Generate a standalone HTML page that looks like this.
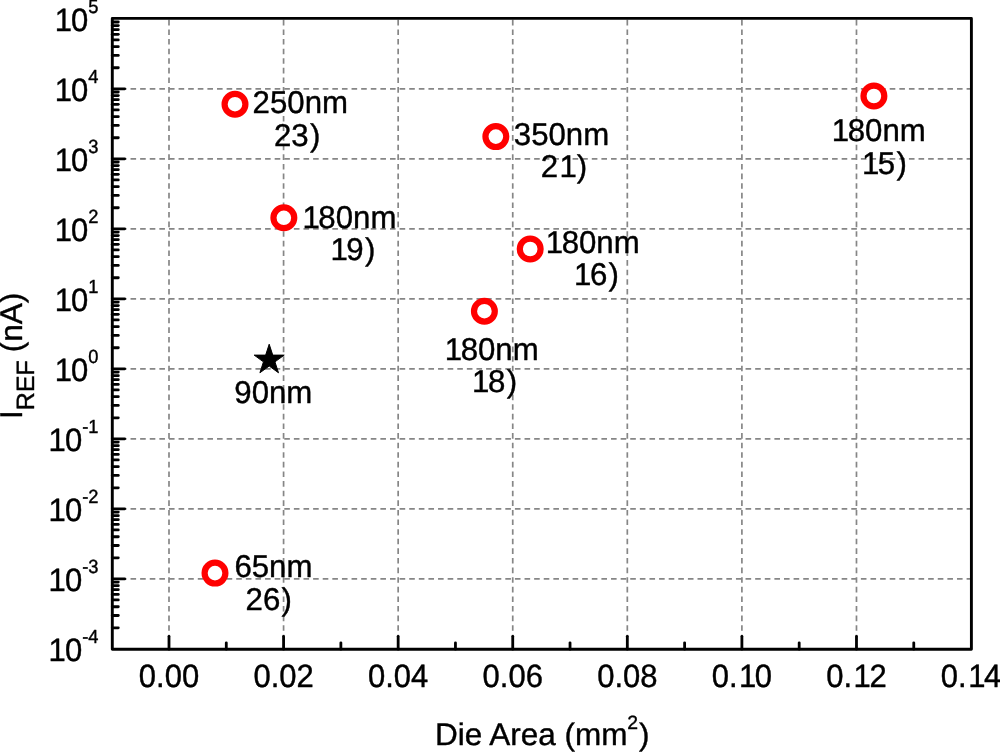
<!DOCTYPE html>
<html lang="en"><head><meta charset="utf-8"><title>I_REF vs Die Area</title>
<style>html,body{margin:0;padding:0;background:#fff;overflow:hidden}svg{display:block}text{font-family:"Liberation Sans",Arial,Helvetica,sans-serif;fill:#000;stroke:#000;stroke-width:0.4px;stroke-linejoin:round;text-rendering:geometricPrecision}</style></head><body>
<svg width="1000" height="752" viewBox="0 0 1000 752">
<rect width="1000" height="752" fill="#fff"/>
<g stroke="#868686" stroke-width="1.7" stroke-dasharray="5.6 4.01" fill="none">
<line x1="169.00" y1="19.80" x2="169.00" y2="649.20"/>
<line x1="283.58" y1="19.80" x2="283.58" y2="649.20"/>
<line x1="398.16" y1="19.80" x2="398.16" y2="649.20"/>
<line x1="512.74" y1="19.80" x2="512.74" y2="649.20"/>
<line x1="627.32" y1="19.80" x2="627.32" y2="649.20"/>
<line x1="741.90" y1="19.80" x2="741.90" y2="649.20"/>
<line x1="856.48" y1="19.80" x2="856.48" y2="649.20"/>
<line x1="111.30" y1="88.81" x2="971.40" y2="88.81"/>
<line x1="111.30" y1="158.82" x2="971.40" y2="158.82"/>
<line x1="111.30" y1="228.83" x2="971.40" y2="228.83"/>
<line x1="111.30" y1="298.84" x2="971.40" y2="298.84"/>
<line x1="111.30" y1="368.85" x2="971.40" y2="368.85"/>
<line x1="111.30" y1="438.86" x2="971.40" y2="438.86"/>
<line x1="111.30" y1="508.87" x2="971.40" y2="508.87"/>
<line x1="111.30" y1="578.88" x2="971.40" y2="578.88"/>
</g>
<g stroke="#000" stroke-width="2.8" stroke-linecap="round" fill="none">
<line x1="112.30" y1="67.73" x2="118.30" y2="67.73"/>
<line x1="112.30" y1="55.41" x2="118.30" y2="55.41"/>
<line x1="112.30" y1="46.66" x2="118.30" y2="46.66"/>
<line x1="112.30" y1="39.88" x2="118.30" y2="39.88"/>
<line x1="112.30" y1="34.33" x2="118.30" y2="34.33"/>
<line x1="112.30" y1="29.64" x2="118.30" y2="29.64"/>
<line x1="112.30" y1="25.58" x2="118.30" y2="25.58"/>
<line x1="112.30" y1="22.00" x2="118.30" y2="22.00"/>
<line x1="112.30" y1="88.81" x2="124.70" y2="88.81"/>
<line x1="112.30" y1="137.74" x2="118.30" y2="137.74"/>
<line x1="112.30" y1="125.42" x2="118.30" y2="125.42"/>
<line x1="112.30" y1="116.67" x2="118.30" y2="116.67"/>
<line x1="112.30" y1="109.89" x2="118.30" y2="109.89"/>
<line x1="112.30" y1="104.34" x2="118.30" y2="104.34"/>
<line x1="112.30" y1="99.65" x2="118.30" y2="99.65"/>
<line x1="112.30" y1="95.59" x2="118.30" y2="95.59"/>
<line x1="112.30" y1="92.01" x2="118.30" y2="92.01"/>
<line x1="112.30" y1="158.82" x2="124.70" y2="158.82"/>
<line x1="112.30" y1="207.75" x2="118.30" y2="207.75"/>
<line x1="112.30" y1="195.43" x2="118.30" y2="195.43"/>
<line x1="112.30" y1="186.68" x2="118.30" y2="186.68"/>
<line x1="112.30" y1="179.90" x2="118.30" y2="179.90"/>
<line x1="112.30" y1="174.35" x2="118.30" y2="174.35"/>
<line x1="112.30" y1="169.66" x2="118.30" y2="169.66"/>
<line x1="112.30" y1="165.60" x2="118.30" y2="165.60"/>
<line x1="112.30" y1="162.02" x2="118.30" y2="162.02"/>
<line x1="112.30" y1="228.83" x2="124.70" y2="228.83"/>
<line x1="112.30" y1="277.76" x2="118.30" y2="277.76"/>
<line x1="112.30" y1="265.44" x2="118.30" y2="265.44"/>
<line x1="112.30" y1="256.69" x2="118.30" y2="256.69"/>
<line x1="112.30" y1="249.91" x2="118.30" y2="249.91"/>
<line x1="112.30" y1="244.36" x2="118.30" y2="244.36"/>
<line x1="112.30" y1="239.67" x2="118.30" y2="239.67"/>
<line x1="112.30" y1="235.61" x2="118.30" y2="235.61"/>
<line x1="112.30" y1="232.03" x2="118.30" y2="232.03"/>
<line x1="112.30" y1="298.84" x2="124.70" y2="298.84"/>
<line x1="112.30" y1="347.77" x2="118.30" y2="347.77"/>
<line x1="112.30" y1="335.45" x2="118.30" y2="335.45"/>
<line x1="112.30" y1="326.70" x2="118.30" y2="326.70"/>
<line x1="112.30" y1="319.92" x2="118.30" y2="319.92"/>
<line x1="112.30" y1="314.37" x2="118.30" y2="314.37"/>
<line x1="112.30" y1="309.68" x2="118.30" y2="309.68"/>
<line x1="112.30" y1="305.62" x2="118.30" y2="305.62"/>
<line x1="112.30" y1="302.04" x2="118.30" y2="302.04"/>
<line x1="112.30" y1="368.85" x2="124.70" y2="368.85"/>
<line x1="112.30" y1="417.78" x2="118.30" y2="417.78"/>
<line x1="112.30" y1="405.46" x2="118.30" y2="405.46"/>
<line x1="112.30" y1="396.71" x2="118.30" y2="396.71"/>
<line x1="112.30" y1="389.93" x2="118.30" y2="389.93"/>
<line x1="112.30" y1="384.38" x2="118.30" y2="384.38"/>
<line x1="112.30" y1="379.69" x2="118.30" y2="379.69"/>
<line x1="112.30" y1="375.63" x2="118.30" y2="375.63"/>
<line x1="112.30" y1="372.05" x2="118.30" y2="372.05"/>
<line x1="112.30" y1="438.86" x2="124.70" y2="438.86"/>
<line x1="112.30" y1="487.79" x2="118.30" y2="487.79"/>
<line x1="112.30" y1="475.47" x2="118.30" y2="475.47"/>
<line x1="112.30" y1="466.72" x2="118.30" y2="466.72"/>
<line x1="112.30" y1="459.94" x2="118.30" y2="459.94"/>
<line x1="112.30" y1="454.39" x2="118.30" y2="454.39"/>
<line x1="112.30" y1="449.70" x2="118.30" y2="449.70"/>
<line x1="112.30" y1="445.64" x2="118.30" y2="445.64"/>
<line x1="112.30" y1="442.06" x2="118.30" y2="442.06"/>
<line x1="112.30" y1="508.87" x2="124.70" y2="508.87"/>
<line x1="112.30" y1="557.80" x2="118.30" y2="557.80"/>
<line x1="112.30" y1="545.48" x2="118.30" y2="545.48"/>
<line x1="112.30" y1="536.73" x2="118.30" y2="536.73"/>
<line x1="112.30" y1="529.95" x2="118.30" y2="529.95"/>
<line x1="112.30" y1="524.40" x2="118.30" y2="524.40"/>
<line x1="112.30" y1="519.71" x2="118.30" y2="519.71"/>
<line x1="112.30" y1="515.65" x2="118.30" y2="515.65"/>
<line x1="112.30" y1="512.07" x2="118.30" y2="512.07"/>
<line x1="112.30" y1="578.88" x2="124.70" y2="578.88"/>
<line x1="112.30" y1="627.81" x2="118.30" y2="627.81"/>
<line x1="112.30" y1="615.49" x2="118.30" y2="615.49"/>
<line x1="112.30" y1="606.74" x2="118.30" y2="606.74"/>
<line x1="112.30" y1="599.96" x2="118.30" y2="599.96"/>
<line x1="112.30" y1="594.41" x2="118.30" y2="594.41"/>
<line x1="112.30" y1="589.72" x2="118.30" y2="589.72"/>
<line x1="112.30" y1="585.66" x2="118.30" y2="585.66"/>
<line x1="112.30" y1="582.08" x2="118.30" y2="582.08"/>
<line x1="169.00" y1="649.20" x2="169.00" y2="636.30"/>
<line x1="226.29" y1="649.20" x2="226.29" y2="642.80"/>
<line x1="283.58" y1="649.20" x2="283.58" y2="636.30"/>
<line x1="340.87" y1="649.20" x2="340.87" y2="642.80"/>
<line x1="398.16" y1="649.20" x2="398.16" y2="636.30"/>
<line x1="455.45" y1="649.20" x2="455.45" y2="642.80"/>
<line x1="512.74" y1="649.20" x2="512.74" y2="636.30"/>
<line x1="570.03" y1="649.20" x2="570.03" y2="642.80"/>
<line x1="627.32" y1="649.20" x2="627.32" y2="636.30"/>
<line x1="684.61" y1="649.20" x2="684.61" y2="642.80"/>
<line x1="741.90" y1="649.20" x2="741.90" y2="636.30"/>
<line x1="799.19" y1="649.20" x2="799.19" y2="642.80"/>
<line x1="856.48" y1="649.20" x2="856.48" y2="636.30"/>
<line x1="913.77" y1="649.20" x2="913.77" y2="642.80"/>
</g>
<rect x="112.30" y="18.40" width="859.10" height="630.80" fill="none" stroke="#000" stroke-width="2.9" stroke-linejoin="round"/>
<g font-size="31.5px">
<text transform="translate(97.70 30.70) scale(1 1.04)" text-anchor="end" dx="0.8 -0.8" font-size="31.0px">10<tspan font-size="18.3px" dy="-16.8">5</tspan></text>
<text transform="translate(97.70 100.71) scale(1 1.04)" text-anchor="end" dx="0.8 -0.8" font-size="31.0px">10<tspan font-size="18.3px" dy="-16.8">4</tspan></text>
<text transform="translate(97.70 170.72) scale(1 1.04)" text-anchor="end" dx="0.8 -0.8" font-size="31.0px">10<tspan font-size="18.3px" dy="-16.8">3</tspan></text>
<text transform="translate(97.70 240.73) scale(1 1.04)" text-anchor="end" dx="0.8 -0.8" font-size="31.0px">10<tspan font-size="18.3px" dy="-16.8">2</tspan></text>
<text transform="translate(97.70 310.74) scale(1 1.04)" text-anchor="end" dx="0.8 -0.8" font-size="31.0px">10<tspan font-size="18.3px" dy="-16.8">1</tspan></text>
<text transform="translate(97.70 380.75) scale(1 1.04)" text-anchor="end" dx="0.8 -0.8" font-size="31.0px">10<tspan font-size="18.3px" dy="-16.8">0</tspan></text>
<text transform="translate(97.70 450.76) scale(1 1.04)" text-anchor="end" dx="0.8 -0.8" font-size="31.0px">10<tspan font-size="18.3px" dy="-16.8">-1</tspan></text>
<text transform="translate(97.70 520.77) scale(1 1.04)" text-anchor="end" dx="0.8 -0.8" font-size="31.0px">10<tspan font-size="18.3px" dy="-16.8">-2</tspan></text>
<text transform="translate(97.70 590.78) scale(1 1.04)" text-anchor="end" dx="0.8 -0.8" font-size="31.0px">10<tspan font-size="18.3px" dy="-16.8">-3</tspan></text>
<text transform="translate(97.70 660.79) scale(1 1.04)" text-anchor="end" dx="0.8 -0.8" font-size="31.0px">10<tspan font-size="18.3px" dy="-16.8">-4</tspan></text>
<text transform="translate(169.00 687.30) scale(1 1.04)" text-anchor="middle" font-size="31.0px">0.00</text>
<text transform="translate(283.58 687.30) scale(1 1.04)" text-anchor="middle" font-size="31.0px">0.02</text>
<text transform="translate(398.16 687.30) scale(1 1.04)" text-anchor="middle" font-size="31.0px">0.04</text>
<text transform="translate(512.74 687.30) scale(1 1.04)" text-anchor="middle" font-size="31.0px">0.06</text>
<text transform="translate(627.32 687.30) scale(1 1.04)" text-anchor="middle" font-size="31.0px">0.08</text>
<text transform="translate(741.90 687.30) scale(1 1.04)" text-anchor="middle" dx="0 0 1.4 -1.4" font-size="31.0px">0.10</text>
<text transform="translate(856.48 687.30) scale(1 1.04)" text-anchor="middle" dx="0 0 1.4 -1.4" font-size="31.0px">0.12</text>
<text transform="translate(971.06 687.30) scale(1 1.04)" text-anchor="middle" dx="0 0 1.4 -1.4" font-size="31.0px">0.14</text>
<text transform="translate(435.00 745.30) scale(1 0.99)" font-size="31.5px">Die Area (mm<tspan font-size="19.4px" dy="-16.7" dx="-0.3">2</tspan><tspan dy="16.7" dx="0.9">)</tspan></text>
<text transform="translate(22.10 418.90) rotate(-90) scale(1 1.0)" font-size="31.5px">I<tspan font-size="25.0px" dy="12.3">REF</tspan><tspan dy="-12.3" dx="-0.9"> (nA)</tspan></text>
<text transform="translate(252.60 113.40) scale(1 1.01)" font-size="31.2px">250nm</text>
<text transform="translate(273.90 145.70) scale(1 1.01)" dx="0 0 1.3" font-size="31.2px">23)</text>
<text transform="translate(301.00 227.90) scale(1 1.01)" dx="1.4 -1.4" font-size="31.2px">180nm</text>
<text transform="translate(329.00 259.70) scale(1 1.01)" dx="1.4 -1.4 1.3" font-size="31.2px">19)</text>
<text transform="translate(513.80 144.50) scale(1 1.01)" font-size="31.2px">350nm</text>
<text transform="translate(540.80 176.50) scale(1 1.01)" dx="0 1.4 -0.1" font-size="31.2px">21)</text>
<text transform="translate(544.30 253.10) scale(1 1.01)" dx="1.4 -1.4" font-size="31.2px">180nm</text>
<text transform="translate(572.60 284.90) scale(1 1.01)" dx="1.4 -1.4 1.3" font-size="31.2px">16)</text>
<text transform="translate(443.30 359.60) scale(1 1.01)" dx="1.4 -1.4" font-size="31.2px">180nm</text>
<text transform="translate(470.70 391.50) scale(1 1.01)" dx="1.4 -1.4 1.3" font-size="31.2px">18)</text>
<text transform="translate(830.40 141.40) scale(1 1.01)" dx="1.4 -1.4" font-size="31.2px">180nm</text>
<text transform="translate(860.50 173.70) scale(1 1.01)" dx="1.4 -1.4 1.3" font-size="31.2px">15)</text>
<text transform="translate(234.40 577.20) scale(1 1.01)" font-size="31.2px">65nm</text>
<text transform="translate(245.60 610.30) scale(1 1.01)" dx="0 0 1.3" font-size="31.2px">26)</text>
<text transform="translate(234.30 403.40) scale(1 1.01)" font-size="31.2px">90nm</text>
</g>
<g fill="#ffffff" stroke="#ff0000" stroke-width="6.2">
<circle cx="235" cy="104.2" r="10.4"/>
<circle cx="283.85" cy="217.8" r="10.4"/>
<circle cx="495.85" cy="136.6" r="10.4"/>
<circle cx="530.2" cy="249" r="10.4"/>
<circle cx="484.4" cy="311.2" r="10.4"/>
<circle cx="873.9" cy="96" r="10.4"/>
<circle cx="215" cy="573.1" r="10.4"/>
</g>
<polygon points="269.20,344.20 272.75,355.12 284.23,355.12 274.94,361.87 278.49,372.78 269.20,366.04 259.91,372.78 263.46,361.87 254.17,355.12 265.65,355.12" fill="#000" stroke="#000" stroke-width="1" stroke-linejoin="round"/>
</svg></body></html>
